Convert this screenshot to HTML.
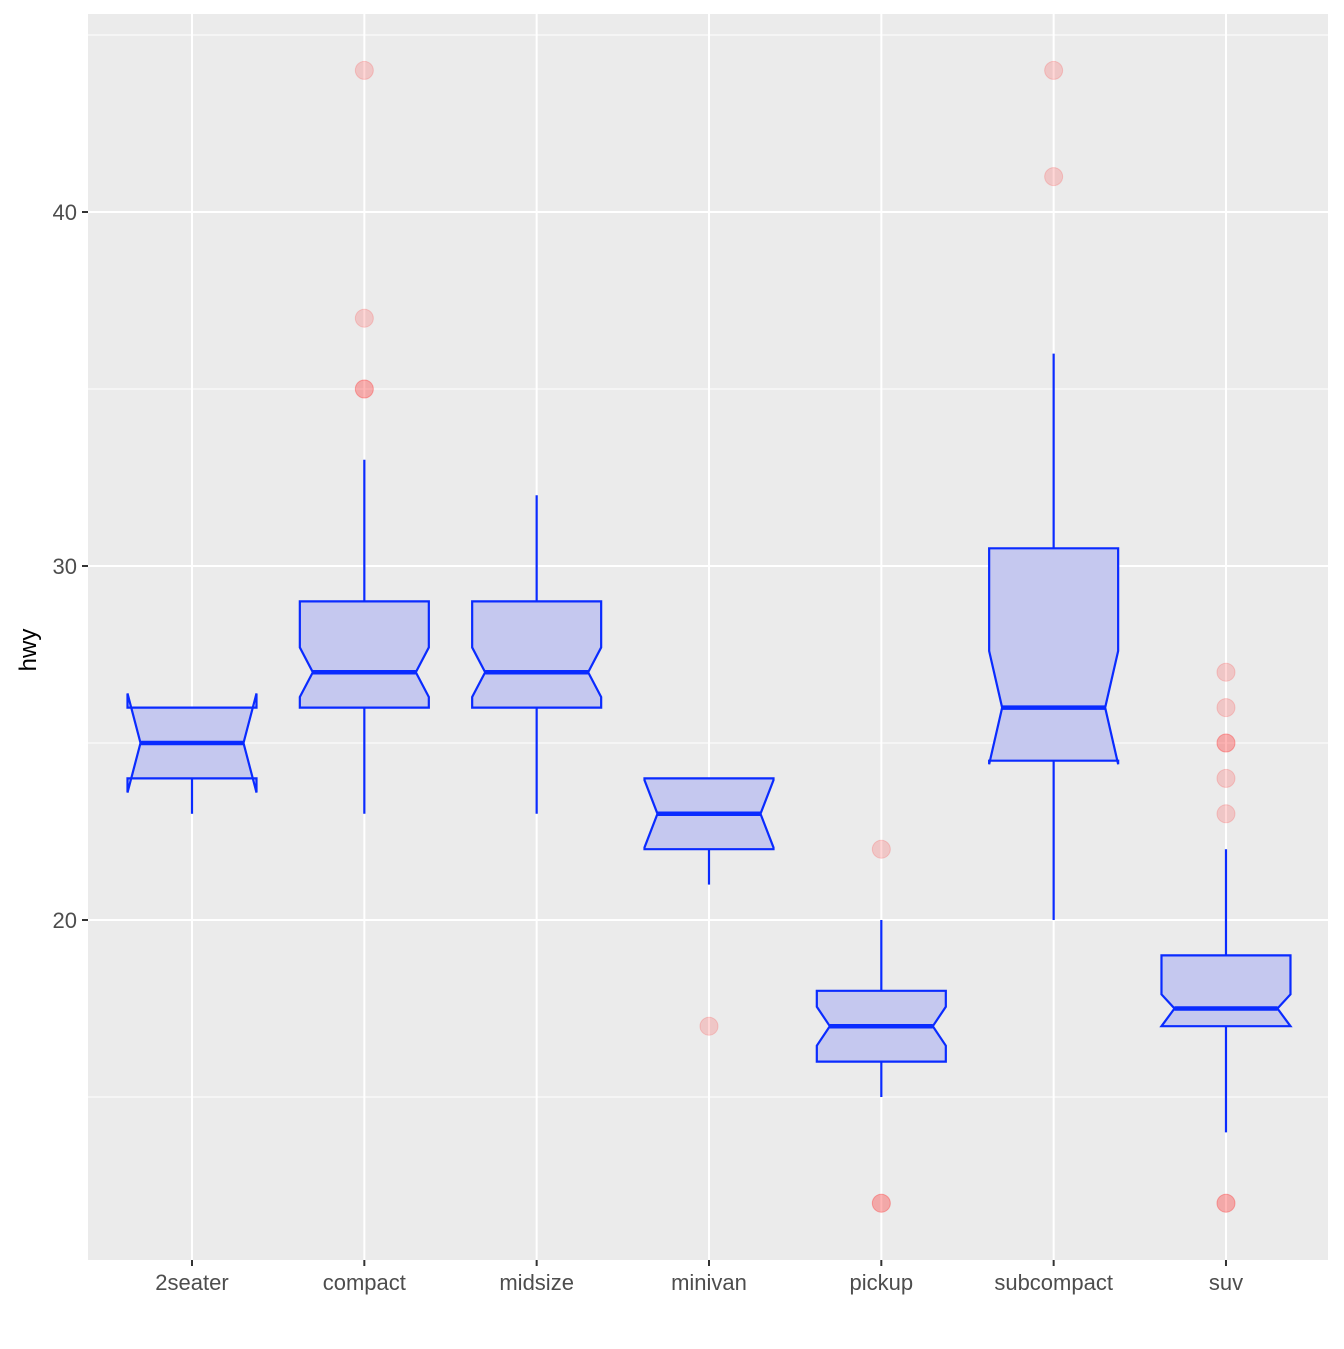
<!DOCTYPE html>
<html><head><meta charset="utf-8"><style>
body{margin:0;background:#fff;}
svg text{font-family:"Liberation Sans",Arial,sans-serif;}
</style></head><body>
<svg id="chart" width="1344" height="1344" xmlns="http://www.w3.org/2000/svg">
<rect x="88" y="14" width="1240" height="1246" fill="#ebebeb"/>
<g id="grid"></g>
<g id="marks"></g>
<g id="axes"></g>
<text x="36" y="650" font-size="24" fill="#000" text-anchor="middle" transform="rotate(-90 36 650)">hwy</text>
</svg>
<script>
const categories=["2seater","compact","midsize","minivan","pickup","subcompact","suv"];
const lower=[24,26,26,22,16,24.5,17];
const upper=[26,29,29,24,18,30.5,19];
const median=[25,27,27,23,17,26,17.5];
const whiskLow=[23,23,23,21,15,20,14];
const whiskHigh=[26,33,32,24,20,36,22];
const notchLow=[23.6,26.3,26.3,22.05,16.45,24.4,17.0];
const notchHigh=[26.4,27.7,27.7,23.95,17.55,27.6,17.9];
const outliers=[[],[44,37,35,35],[],[17],[22,12,12],[44,41],[27,26,25,25,24,23,12,12]];
const yTicks=[20,30,40];
const yMinor=[15,25,35,45];

const NS="http://www.w3.org/2000/svg";
function y(v){return 566-(v-30)*35.4;}
function x(i){return 192+i*172.33;}
function mk(tag,attrs,parent){const e=document.createElementNS(NS,tag);for(const k in attrs)e.setAttribute(k,attrs[k]);parent.appendChild(e);return e;}
const grid=document.getElementById('grid'),marks=document.getElementById('marks'),axes=document.getElementById('axes');
yMinor.forEach(v=>{const l=mk('line',{x1:88,x2:1328,y1:y(v),y2:y(v),stroke:'#fff','stroke-width':1},grid);

});
yTicks.forEach(v=>{const l=mk('line',{x1:88,x2:1328,y1:y(v),y2:y(v),stroke:'#fff','stroke-width':2},grid);


const t=mk('line',{x1:82,x2:88,y1:y(v),y2:y(v),stroke:'#333','stroke-width':2},axes);


const tx=mk('text',{x:77,y:y(v)+8,'font-size':22,fill:'#4d4d4d','text-anchor':'end'},axes);tx.textContent=v;

});
categories.forEach((c,i)=>{const cx=x(i);
const g=mk('line',{x1:cx,x2:cx,y1:14,y2:1260,stroke:'#fff','stroke-width':2},grid);


const t=mk('line',{x1:cx,x2:cx,y1:1260,y2:1266,stroke:'#333','stroke-width':2},axes);


const tx=mk('text',{x:cx,y:1290,'font-size':22,fill:'#4d4d4d','text-anchor':'middle'},axes);tx.textContent=c;


const xmin=cx-64.5,xmax=cx+64.5,inset=13;
const w1=mk('line',{x1:cx,x2:cx,y1:y(upper[i]),y2:y(whiskHigh[i]),stroke:'#0a2bff','stroke-width':2.2},marks);


const w2=mk('line',{x1:cx,x2:cx,y1:y(lower[i]),y2:y(whiskLow[i]),stroke:'#0a2bff','stroke-width':2.2},marks);


const pts=[[xmin,y(lower[i])],[xmin,y(notchLow[i])],[xmin+inset,y(median[i])],[xmin,y(notchHigh[i])],[xmin,y(upper[i])],[xmax,y(upper[i])],[xmax,y(notchHigh[i])],[xmax-inset,y(median[i])],[xmax,y(notchLow[i])],[xmax,y(lower[i])]];
const b=mk('polygon',{points:pts.map(p=>p.join(',')).join(' '),fill:'#c5c8ef',stroke:'#0a2bff','stroke-width':2.2},marks);


const m=mk('line',{x1:xmin+inset,x2:xmax-inset,y1:y(median[i]),y2:y(median[i]),stroke:'#0a2bff','stroke-width':4.5},marks);


outliers[i].forEach(v=>{const o=mk('circle',{cx:cx,cy:y(v),r:9,fill:'#ff3030','fill-opacity':0.2,stroke:'#ff3030','stroke-opacity':0.2,'stroke-width':1},marks);

});
});
</script>
</body></html>
